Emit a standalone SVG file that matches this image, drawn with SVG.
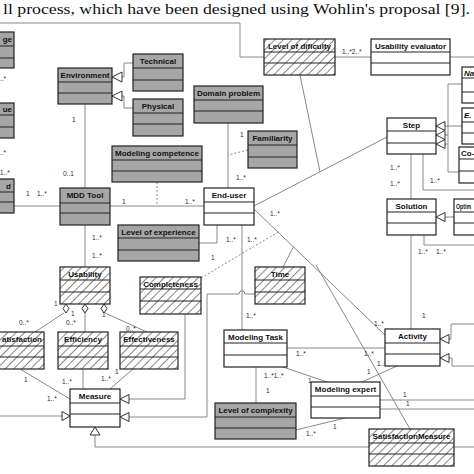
<svg xmlns="http://www.w3.org/2000/svg" width="474" height="474" viewBox="0 0 474 474">
<defs>
<pattern id="hatch" patternUnits="userSpaceOnUse" width="6" height="6" patternTransform="rotate(45)">
<rect width="6" height="6" fill="#fff"/>
<line x1="0" y1="0" x2="0" y2="6" stroke="#444" stroke-width="1.3"/>
</pattern>
</defs>
<style>
.b{stroke:#222;stroke-width:1.2}
.g{fill:#a6a6a6}
.w{fill:#fff}
.h{fill:url(#hatch)}
.t{font-family:"Liberation Sans",Arial,sans-serif;font-weight:bold;font-size:8px;text-anchor:middle;fill:#111}
.ti{font-family:"Liberation Sans",Arial,sans-serif;font-weight:bold;font-style:italic;font-size:8px;fill:#111}
.l{font-family:"Liberation Sans",Arial,sans-serif;font-size:6.5px;fill:#2a2a2a}
.c{stroke:#888;stroke-width:1;fill:none}
.dd{stroke-dasharray:2,2}
.tri{fill:#fff;stroke:#333;stroke-width:1}
</style>
<rect width="474" height="474" fill="#fff"/>
<text x="3" y="14" font-family="'Liberation Serif','Times New Roman',serif" font-size="15" textLength="467" lengthAdjust="spacingAndGlyphs" fill="#111">ll process, which have been designed using Wohlin's proposal [9].</text>

<g id="connectors">
<path class="c" d="M0,23 H240 V57 H264" stroke-width="1.5"/>
<path class="c" d="M335,57 H371"/>
<path class="c" d="M450,57 H474"/>
<path class="c" d="M300,75 L320,172"/>
<path class="c" d="M254,206 L387,137"/>
<path class="c" d="M228,123 V188"/>
<path class="c dd" d="M248,150 L228,155"/>
<path class="c" d="M85,104 V188"/>
<path class="c" d="M110,206 H204"/>
<path class="c dd" d="M157,182 V206"/>
<path class="c" d="M14,206 H60"/>
<path class="c" d="M199,243 H217 V225"/>
<path class="c" d="M85,225 V267"/>
<path class="c" d="M242,225 V330"/>
<path class="c" d="M254,209 L385,335"/>
<path class="c dd" d="M201,278 L280,231"/>
<path class="c" d="M283,267 L294,246"/>
<path class="c" d="M316,265 L410,429"/>
<path class="c" d="M255,294 H245 a3,3 0 0 0 -6,0 H207 V417 H129"/>
<path class="c" d="M185,314 V399 H129"/>
<path class="c" d="M95,435 V447 H474"/>
<path class="c" d="M0,416 H62"/>
<path class="c" d="M64,313 L35,332"/>
<path class="c" d="M85,313 V332"/>
<path class="c" d="M105,313 L147,332"/>
<path class="c" d="M20,369 L70,399"/>
<path class="c" d="M83,369 V389"/>
<path class="c" d="M133,369 L110,389"/>
<path class="c" d="M287,348 H385"/>
<path class="c" d="M283,367 L327,382"/>
<path class="c" d="M397,366 L362,382"/>
<path class="c" d="M256,367 V403"/>
<path class="c" d="M296,430 L345,418"/>
<path class="c" d="M380,400 H474"/>
<path class="c" d="M380,409 H474"/>
<path class="c" d="M411,154 V199"/>
<path class="c" d="M423,154 V190 H474"/>
<path class="c" d="M411,235 V329"/>
<path class="c" d="M424,235 V245 H474"/>
<path class="c" d="M445,217 H454"/>
<path class="c" d="M448,84 V172 H459 M448,84 H462 M445,126 H462 M445,135 H448 M445,144 H448"/>
<path class="c" d="M449,339 H451 V324 H474 M449,358 H452 V366 H474"/>
<path class="c" d="M122,77 H124 V63 H133 M122,96 H124 V108 H133"/>
<polygon class="tri" points="120,399 129,394.5 129,403.5"/>
<polygon class="tri" points="120,417 129,412.5 129,421.5"/>
<polygon class="tri" points="95,427 90,435 100,435"/>
<polygon class="tri" points="70,416 62,411.5 62,420.5"/>
<polygon class="tri" points="436,217 445,212.5 445,221.5"/>
<polygon class="tri" points="436,126 445,121.5 445,130.5"/>
<polygon class="tri" points="436,135 445,130.5 445,139.5"/>
<polygon class="tri" points="436,144 445,139.5 445,148.5"/>
<polygon class="tri" points="440,339 449,334.5 449,343.5"/>
<polygon class="tri" points="440,358 449,353.5 449,362.5"/>
<polygon class="tri" points="112,77 122,72 122,82"/>
<polygon class="tri" points="112,96 122,91 122,101"/>
<path class="tri" d="M66,304 l3,4.5 l-3,4.5 l-3,-4.5 z"/>
<path class="tri" d="M85,304 l3,4.5 l-3,4.5 l-3,-4.5 z"/>
<path class="tri" d="M104,304 l3,4.5 l-3,4.5 l-3,-4.5 z"/>
<text class="l" x="342" y="54">1..*2..*</text>
<text class="l" x="240" y="137">1</text>
<text class="l" x="236" y="180">1..*</text>
<text class="l" x="72" y="122">1</text>
<text class="l" x="63" y="176">0..1</text>
<text class="l" x="122" y="204">1</text>
<text class="l" x="185" y="204">1..*</text>
<text class="l" x="26" y="196">1</text>
<text class="l" x="37" y="196">1..*</text>
<text class="l" x="0" y="81">..*</text>
<text class="l" x="0" y="155">..*</text>
<text class="l" x="0" y="175">1..*</text>
<text class="l" x="92" y="240">1..*</text>
<text class="l" x="92" y="258">1..*</text>
<text class="l" x="226" y="242">1..*</text>
<text class="l" x="247" y="242">1..*</text>
<text class="l" x="246" y="318">1..*</text>
<text class="l" x="270" y="216">1..*</text>
<text class="l" x="374" y="326">1..*</text>
<text class="l" x="211" y="260">1</text>
<text class="l" x="54" y="306">1</text>
<text class="l" x="19" y="325">0..*</text>
<text class="l" x="71" y="316">1</text>
<text class="l" x="66" y="325">0..*</text>
<text class="l" x="102" y="317">1</text>
<text class="l" x="126" y="331">0..*</text>
<text class="l" x="24" y="382">1</text>
<text class="l" x="47" y="401">1..*</text>
<text class="l" x="62" y="384">1..*</text>
<text class="l" x="101" y="381">1..*</text>
<text class="l" x="115" y="374">1</text>
<text class="l" x="296" y="356">1..*</text>
<text class="l" x="364" y="356">1..*</text>
<text class="l" x="264" y="378">1..*1..*</text>
<text class="l" x="308" y="383">1</text>
<text class="l" x="377" y="366">1..*</text>
<text class="l" x="367" y="374">1</text>
<text class="l" x="266" y="393">1</text>
<text class="l" x="306" y="436">1..*</text>
<text class="l" x="333" y="429">1</text>
<text class="l" x="403" y="397">1</text>
<text class="l" x="406" y="406">1</text>
<text class="l" x="390" y="170">1..*</text>
<text class="l" x="390" y="186">1..*</text>
<text class="l" x="430" y="183">1..*</text>
<text class="l" x="422" y="318">1</text>
<text class="l" x="418" y="254">1..*</text>
<text class="l" x="436" y="254">1..*</text>
</g>

<g id="n-ge"><rect class="b g" x="-10" y="32" width="24" height="36"/><path class="b" d="M-10,46 H14 M-10,58 H14"/><text class="t" x="12" y="42" style="text-anchor:end">ge</text></g>
<g id="n-ue"><rect class="b g" x="-10" y="103" width="24" height="35"/><path class="b" d="M-10,115 H14 M-10,127 H14"/><text class="t" x="12" y="112" style="text-anchor:end">ue</text></g>
<g id="n-d"><rect class="b g" x="-10" y="179" width="24" height="34"/><path class="b" d="M-10,192 H14 M-10,202 H14"/><text class="t" x="11" y="189" style="text-anchor:end">d</text></g>
<g id="n-environment"><rect class="b g" x="58" y="68" width="54" height="36"/><path class="b" d="M58,82 H112 M58,93 H112"/><text class="t" x="85" y="78">Environment</text></g>
<g id="n-technical"><rect class="b g" x="133" y="54" width="50" height="37"/><path class="b" d="M133,68 H183 M133,80 H183"/><text class="t" x="158" y="64">Technical</text></g>
<g id="n-physical"><rect class="b g" x="133" y="99" width="50" height="37"/><path class="b" d="M133,113 H183 M133,124 H183"/><text class="t" x="158" y="109">Physical</text></g>
<g id="n-domain"><rect class="b g" x="194" y="86" width="69" height="37"/><path class="b" d="M194,100 H263 M194,111 H263"/><text class="t" x="228.5" y="96">Domain problem</text></g>
<g id="n-familiarity"><rect class="b g" x="248" y="131" width="49" height="37"/><path class="b" d="M248,145 H297 M248,157 H297"/><text class="t" x="272.5" y="141">Familiarity</text></g>
<g id="n-competence"><rect class="b g" x="112" y="146" width="90" height="36"/><path class="b" d="M112,160 H202 M112,171 H202"/><text class="t" x="157" y="156">Modeling competence</text></g>
<g id="n-enduser"><rect class="b w" x="204" y="188" width="50" height="37"/><path class="b" d="M204,202 H254 M204,213 H254"/><text class="t" x="229" y="198">End-user</text></g>
<g id="n-mddtool"><rect class="b g" x="60" y="188" width="50" height="37"/><path class="b" d="M60,203 H110 M60,213 H110"/><text class="t" x="85" y="198">MDD Tool</text></g>
<g id="n-experience"><rect class="b g" x="118" y="225" width="81" height="36"/><path class="b" d="M118,238 H199 M118,250 H199"/><text class="t" x="158.5" y="235">Level of experience</text></g>
<g id="n-usability"><rect class="b h" x="60" y="267" width="50" height="37"/><path class="b" d="M60,280 H110 M60,292 H110"/><text class="t" x="85" y="277">Usability</text></g>
<g id="n-completeness"><rect class="b h" x="140" y="277" width="61" height="37"/><path class="b" d="M140,289 H201 M140,301 H201"/><text class="t" x="170.5" y="287">Completeness</text></g>
<g id="n-time"><rect class="b h" x="255" y="267" width="50" height="37"/><path class="b" d="M255,280 H305 M255,292 H305"/><text class="t" x="280" y="277">Time</text></g>
<g id="n-satisfaction"><rect class="b h" x="-10" y="332" width="54" height="37"/><path class="b" d="M-10,346 H44 M-10,357 H44"/><text class="t" x="42" y="342" style="text-anchor:end">atisfaction</text></g>
<g id="n-efficiency"><rect class="b h" x="58" y="332" width="50" height="37"/><path class="b" d="M58,346 H108 M58,357 H108"/><text class="t" x="83" y="342">Efficiency</text></g>
<g id="n-effectiveness"><rect class="b h" x="120" y="332" width="58" height="37"/><path class="b" d="M120,346 H178 M120,357 H178"/><text class="t" x="149" y="342">Effectiveness</text></g>
<g id="n-measure"><rect class="b w" x="70" y="389" width="50" height="38"/><path class="b" d="M70,403 H120 M70,414 H120"/><text class="t" x="95" y="399">Measure</text></g>
<g id="n-modelingtask"><rect class="b w" x="224" y="330" width="63" height="37"/><path class="b" d="M224,343 H287 M224,355 H287"/><text class="t" x="255.5" y="340">Modeling Task</text></g>
<g id="n-complexity"><rect class="b g" x="215" y="403" width="81" height="36"/><path class="b" d="M215,417 H296 M215,428 H296"/><text class="t" x="255.5" y="413">Level of complexity</text></g>
<g id="n-expert"><rect class="b w" x="311" y="382" width="69" height="36"/><path class="b" d="M311,396 H380 M311,407 H380"/><text class="t" x="345.5" y="392">Modeling expert</text></g>
<g id="n-activity"><rect class="b w" x="385" y="329" width="55" height="37"/><path class="b" d="M385,343 H440 M385,354 H440"/><text class="t" x="412.5" y="339">Activity</text></g>
<g id="n-satmeasure"><rect class="b h" x="369" y="429" width="85" height="37"/><path class="b" d="M369,443 H454 M369,454 H454"/><text class="t" x="411.5" y="439">SatisfactionMeasure</text></g>
<g id="n-difficulty"><rect class="b h" x="264" y="39" width="71" height="36"/><path class="b" d="M264,52 H335 M264,63 H335"/><text class="t" x="299.5" y="49">Level of dificulty</text></g>
<g id="n-evaluator"><rect class="b w" x="371" y="39" width="79" height="36"/><path class="b" d="M371,52 H450 M371,63 H450"/><text class="t" x="410.5" y="49">Usability evaluator</text></g>
<g id="n-na"><rect class="b w" x="462" y="67" width="20" height="36"/><path class="b" d="M462,78 H482 M462,92 H482"/><text class="ti" x="464" y="76">Na</text></g>
<g id="n-e"><rect class="b w" x="462" y="108" width="20" height="36"/><path class="b" d="M462,122 H482 M462,133 H482"/><text class="ti" x="464" y="118">E.</text></g>
<g id="n-co"><rect class="b w" x="459" y="147" width="20" height="36"/><path class="b" d="M459,159 H479 M459,171 H479"/><text class="t" x="461" y="156" style="text-anchor:start">Co-</text></g>
<g id="n-step"><rect class="b w" x="387" y="118" width="49" height="36"/><path class="b" d="M387,131 H436 M387,143 H436"/><text class="t" x="411.5" y="128">Step</text></g>
<g id="n-solution"><rect class="b w" x="387" y="199" width="49" height="36"/><path class="b" d="M387,212 H436 M387,223 H436"/><text class="t" x="411.5" y="209">Solution</text></g>
<g id="n-optim"><rect class="b w" x="454" y="199" width="30" height="36"/><path class="b" d="M454,212 H484 M454,223 H484"/><text class="t" x="456" y="209" font-size="7" textLength="15" lengthAdjust="spacingAndGlyphs" style="text-anchor:start">Optim</text></g>
</svg>
